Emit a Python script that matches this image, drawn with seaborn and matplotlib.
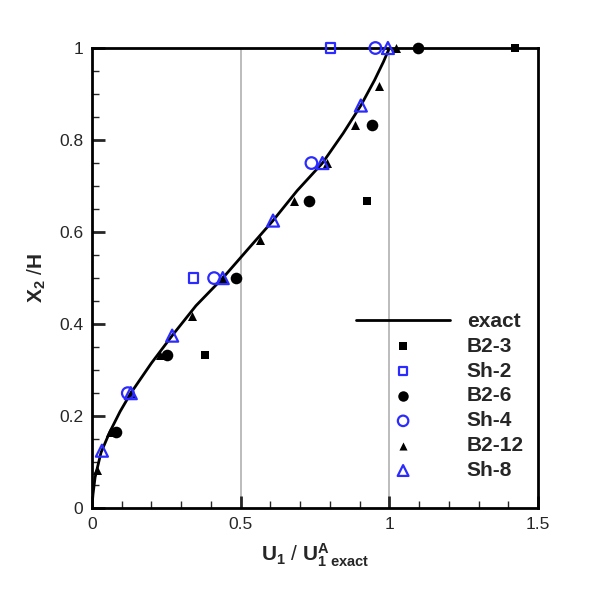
import numpy as np
import pandas as pd
import matplotlib.pyplot as plt
import seaborn as sns
from matplotlib.ticker import MultipleLocator

# exact profile
exact_u = [0.0, 0.004, 0.011, 0.031, 0.06, 0.095, 0.131, 0.2, 0.27, 0.35, 0.44,
           0.525, 0.609, 0.69, 0.775, 0.845, 0.904, 0.95, 0.98, 1.0]
exact_y = [0.0, 0.03, 0.067, 0.121, 0.165, 0.21, 0.25, 0.315, 0.375, 0.44, 0.5,
           0.563, 0.625, 0.69, 0.75, 0.815, 0.875, 0.93, 0.97, 1.0]

b23_u = [0.38, 0.925, 1.423]
b23_y = [1/3, 2/3, 1.0]
sh2_u = [0.342, 0.803]
sh2_y = [0.5, 1.0]
b26_u = [0.080, 0.254, 0.483, 0.729, 0.943, 1.096]
b26_y = [1/6, 2/6, 3/6, 4/6, 5/6, 1.0]
sh4_u = [0.121, 0.411, 0.738, 0.953]
sh4_y = [0.25, 0.5, 0.75, 1.0]
b212_u = [0.019, 0.062, 0.131, 0.229, 0.336, 0.442, 0.565, 0.679, 0.789, 0.884, 0.965, 1.023]
b212_y = [k / 12 for k in range(1, 13)]
sh8_u = [0.034, 0.131, 0.270, 0.440, 0.609, 0.775, 0.904, 0.995]
sh8_y = [k / 8 for k in range(1, 9)]

blue = '#2b2bff'
series = [
    ('B2-3', b23_u, b23_y, 's', 'black', True, 38),
    ('Sh-2', sh2_u, sh2_y, 's', blue, False, 45),
    ('B2-6', b26_u, b26_y, 'o', 'black', True, 70),
    ('Sh-4', sh4_u, sh4_y, 'o', blue, False, 70),
    ('B2-12', b212_u, b212_y, '^', 'black', True, 42),
    ('Sh-8', sh8_u, sh8_y, '^', blue, False, 75),
]

sns.set_theme(style='white')
plt.rcParams['font.family'] = ['Liberation Sans', 'DejaVu Sans']
plt.rcParams['mathtext.fontset'] = 'custom'
plt.rcParams['mathtext.rm'] = 'Liberation Sans'
plt.rcParams['mathtext.bf'] = 'Liberation Sans:bold'

fig = plt.figure(figsize=(6, 6), dpi=100)
ax = fig.add_axes([0.153, 0.153, 0.744, 0.767])

ax.axvline(0.5, color='#b0b0b0', lw=1.2, zorder=0)
ax.axvline(1.0, color='#b0b0b0', lw=1.2, zorder=0)

exact_df = pd.DataFrame({'u': exact_u, 'y': exact_y})
sns.lineplot(data=exact_df, x='u', y='y', sort=False, color='black', lw=2,
             label='exact', ax=ax, zorder=2)

for name, u, y, mk, col, filled, s in series:
    d = pd.DataFrame({'u': u, 'y': y})
    if filled:
        sns.scatterplot(data=d, x='u', y='y', marker=mk, s=s, color=col,
                        edgecolor=col, linewidth=0, label=name, ax=ax, zorder=3,
                        clip_on=False)
    else:
        sns.scatterplot(data=d, x='u', y='y', marker=mk, s=s, facecolor='none',
                        edgecolor=col, linewidth=1.6, label=name, ax=ax, zorder=4,
                        clip_on=False)

ax.set_xlim(0, 1.5)
ax.set_ylim(0, 1)
ax.xaxis.set_major_locator(MultipleLocator(0.5))
ax.xaxis.set_minor_locator(MultipleLocator(0.1))
ax.yaxis.set_major_locator(MultipleLocator(0.2))
ax.yaxis.set_minor_locator(MultipleLocator(0.05))
ax.set_xticks([0, 0.5, 1, 1.5], ['0', '0.5', '1', '1.5'])
ax.set_yticks([0, 0.2, 0.4, 0.6, 0.8, 1.0], ['0', '0.2', '0.4', '0.6', '0.8', '1'])
ax.tick_params(which='both', direction='in', bottom=True, left=True, top=False, right=False,
               labelsize=12.5, pad=6)
ax.tick_params(which='major', length=9, width=2)
ax.tick_params(which='minor', length=5, width=1)
for sp in ax.spines.values():
    sp.set_linewidth(2)
    sp.set_color('black')

ax.set_xlabel(r'$\mathbf{U_1}$ / $\mathbf{U^{A}_{1\ exact}}$', fontsize=15, labelpad=7)
ax.set_ylabel(r'$\mathbf{X_2}$ /$\mathbf{H}$', fontsize=15, labelpad=8)

handles, labels = ax.get_legend_handles_labels()
leg = ax.legend(handles, labels, loc='upper left', bbox_to_anchor=(0.569, 0.449),
                frameon=False, borderpad=0, handlelength=4.5, handletextpad=0.8,
                labelspacing=0.28, markerscale=0.9, prop={'size': 15, 'weight': 'bold'})

fig.savefig('out.png', dpi=100)
